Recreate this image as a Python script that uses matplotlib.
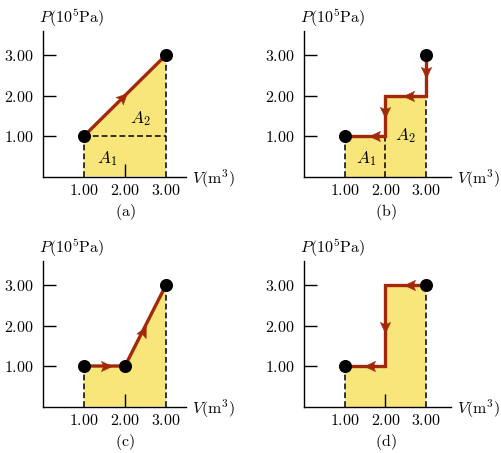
import matplotlib
matplotlib.use('Agg')
import matplotlib.pyplot as plt
import numpy as np
from matplotlib.path import Path
from matplotlib.markers import MarkerStyle
from matplotlib.transforms import Affine2D

plt.rcParams['mathtext.fontset'] = 'cm'
plt.rcParams['font.family'] = 'serif'
plt.rcParams['font.serif'] = ['cmr10', 'DejaVu Serif']

W, H = 501, 453
RED = '#A2280A'
YELLOW = '#F8E67B'

# ---------------- data ----------------
tick_values = [1.0, 2.0, 3.0]
tick_labels = ['1.00', '2.00', '3.00']
panel_names = ['(a)', '(b)', '(c)', '(d)']

# process paths (V in m^3, P in 1e5 Pa)
a_V = [1, 3];             a_P = [1, 3]
b_V = [3, 3, 2, 2, 1];    b_P = [3, 2, 2, 1, 1]
c_V = [1, 2, 3];          c_P = [1, 1, 3]
d_V = [3, 2, 2, 1];       d_P = [3, 3, 1, 1]

# black state points
a_dot_V = [1, 3];    a_dot_P = [1, 3]
b_dot_V = [3, 1];    b_dot_P = [3, 1]
c_dot_V = [1, 2, 3]; c_dot_P = [1, 1, 3]
d_dot_V = [3, 1];    d_dot_P = [3, 1]

# arrow-head tips
a_arr_V = [2.05];                 a_arr_P = [2.05]
b_arr_V = [3, 2.43, 2, 1.6];      b_arr_P = [2.43, 2, 1.44, 1]
c_arr_V = [1.68, 2.5];            c_arr_P = [1, 2.0]
d_arr_V = [2.46, 2, 1.47];        d_arr_P = [3, 1.81, 1]

# dashed drop lines (V, top P)
a_drop_V = [1, 3];    a_drop_P = [1, 3]
b_drop_V = [1, 2, 3]; b_drop_P = [1, 1, 2]
c_drop_V = [1, 3];    c_drop_P = [1, 3]
d_drop_V = [1, 3];    d_drop_P = [1, 3]
# horizontal dashed line in (a)
a_hdash_P = [1]; a_hdash_V0 = [1]; a_hdash_V1 = [3]

# area labels
a_area_txt = ['$A_1$', '$A_2$']; a_area_V = [1.56, 2.37]; a_area_P = [0.45, 1.44]
b_area_txt = ['$A_1$', '$A_2$']; b_area_V = [1.53, 2.5];  b_area_P = [0.45, 1.0]

panels = [
    dict(V=a_V, P=a_P, dV=a_dot_V, dP=a_dot_P, aV=a_arr_V, aP=a_arr_P,
         drV=a_drop_V, drP=a_drop_P, txt=a_area_txt, tV=a_area_V, tP=a_area_P,
         hP=a_hdash_P, hV0=a_hdash_V0, hV1=a_hdash_V1,
         box=(43, 176.5, 186, 30.5), xs=41.0),
    dict(V=b_V, P=b_P, dV=b_dot_V, dP=b_dot_P, aV=b_arr_V, aP=b_arr_P,
         drV=b_drop_V, drP=b_drop_P, txt=b_area_txt, tV=b_area_V, tP=b_area_P,
         hP=[], hV0=[], hV1=[],
         box=(304, 176.5, 451, 30.5), xs=40.7),
    dict(V=c_V, P=c_P, dV=c_dot_V, dP=c_dot_P, aV=c_arr_V, aP=c_arr_P,
         drV=c_drop_V, drP=c_drop_P, txt=[], tV=[], tP=[],
         hP=[], hV0=[], hV1=[],
         box=(43, 406.5, 186, 260.5), xs=41.0),
    dict(V=d_V, P=d_P, dV=d_dot_V, dP=d_dot_P, aV=d_arr_V, aP=d_arr_P,
         drV=d_drop_V, drP=d_drop_P, txt=[], tV=[], tP=[],
         hP=[], hV0=[], hV1=[],
         box=(304, 406.5, 451, 260.5), xs=40.7),
]

# arrow-head marker: tip at origin pointing +x, notched back
head_path = Path([(0, 0), (-1, 0.47), (-0.8, 0), (-1, -0.47), (0, 0)],
                 [Path.MOVETO, Path.LINETO, Path.LINETO, Path.LINETO, Path.CLOSEPOLY])

DASH = (0, (3.8, 2.0))
FS = 11.5

fig = plt.figure(figsize=(W / 100, H / 100), dpi=100)

for name, pn in zip(panel_names, panels):
    l, b, r, t = pn['box']
    ax = fig.add_axes([l / W, 1 - b / H, (r - l) / W, (b - t) / H])
    ax.set_xlim(0, (r - l) / pn['xs'])
    ax.set_ylim(0, (b - t) / 40.5)
    for s in ['top', 'right']:
        ax.spines[s].set_visible(False)
    for s in ['left', 'bottom']:
        ax.spines[s].set_linewidth(1.0)
    ax.set_xticks(tick_values)
    ax.set_xticklabels([r'$\mathrm{%s}$' % s for s in tick_labels])
    ax.set_yticks(tick_values)
    ax.set_yticklabels([r'$\mathrm{%s}$' % s for s in tick_labels])
    ax.tick_params(direction='in', length=9.4, width=1.0, labelsize=FS)
    ax.tick_params(axis='y', pad=7.0)
    ax.tick_params(axis='x', pad=4.5)
    for tk, loc in zip(ax.xaxis.get_major_ticks(), tick_values):
        if loc in pn['drV']:
            tk.tick1line.set_visible(False)

    V = list(pn['V']); P = list(pn['P'])
    if V[0] > V[-1]:
        poly_V = V[::-1]; poly_P = P[::-1]
    else:
        poly_V = V; poly_P = P
    ax.fill([poly_V[0]] + poly_V + [poly_V[-1]], [0] + poly_P + [0],
            color=YELLOW, lw=0, zorder=1)

    ax.vlines(pn['drV'], 0, pn['drP'], colors='black', linestyles=DASH,
              lw=1.1, zorder=2)
    if pn['hP']:
        ax.hlines(pn['hP'], pn['hV0'], pn['hV1'], colors='black',
                  linestyles=DASH, lw=1.1, zorder=2)

    ax.plot(V, P, color=RED, lw=2.4, solid_joinstyle='miter', zorder=3)

    # arrow heads oriented along the segment they lie on
    disp = ax.transData
    pts = np.column_stack([V, P])
    for av, ap in zip(pn['aV'], pn['aP']):
        best = None
        for i in range(len(pts) - 1):
            p0, p1 = pts[i], pts[i + 1]
            d = p1 - p0
            tpar = np.clip(np.dot([av, ap] - p0, d) / np.dot(d, d), 0, 1)
            dist = np.hypot(*(p0 + tpar * d - [av, ap]))
            if best is None or dist < best[0]:
                best = (dist, p0, p1)
        q0, q1 = disp.transform([best[1], best[2]])
        ang = np.degrees(np.arctan2(q1[1] - q0[1], q1[0] - q0[0]))
        m = MarkerStyle(head_path, transform=Affine2D().rotate_deg(ang))
        ax.plot([av], [ap], marker=m, ms=16, color=RED, mec=RED, mew=0.3,
                ls='none', zorder=4)

    ax.plot(pn['dV'], pn['dP'], 'o', color='black', ms=8.4, zorder=5, clip_on=False)

    for s, tv, tp in zip(pn['txt'], pn['tV'], pn['tP']):
        ax.text(tv, tp, s, fontsize=12.5, ha='center', va='center', zorder=6)

    ax.annotate(r'$P(10^5\mathrm{Pa})$', xy=(0, 1), xycoords='axes fraction',
                xytext=(-4, 12), textcoords='offset pixels', ha='left', va='center',
                fontsize=FS)
    ax.annotate(r'$V(\mathrm{m}^3)$', xy=(1, 0), xycoords='axes fraction',
                xytext=(6, -2), textcoords='offset pixels', ha='left', va='center',
                fontsize=FS)
    ax.annotate(r'$\mathrm{%s}$' % name, xy=(2, 0), xycoords='data',
                xytext=(0, -35), textcoords='offset pixels', ha='center', va='center',
                fontsize=FS)

fig.savefig('out.png', dpi=100)
